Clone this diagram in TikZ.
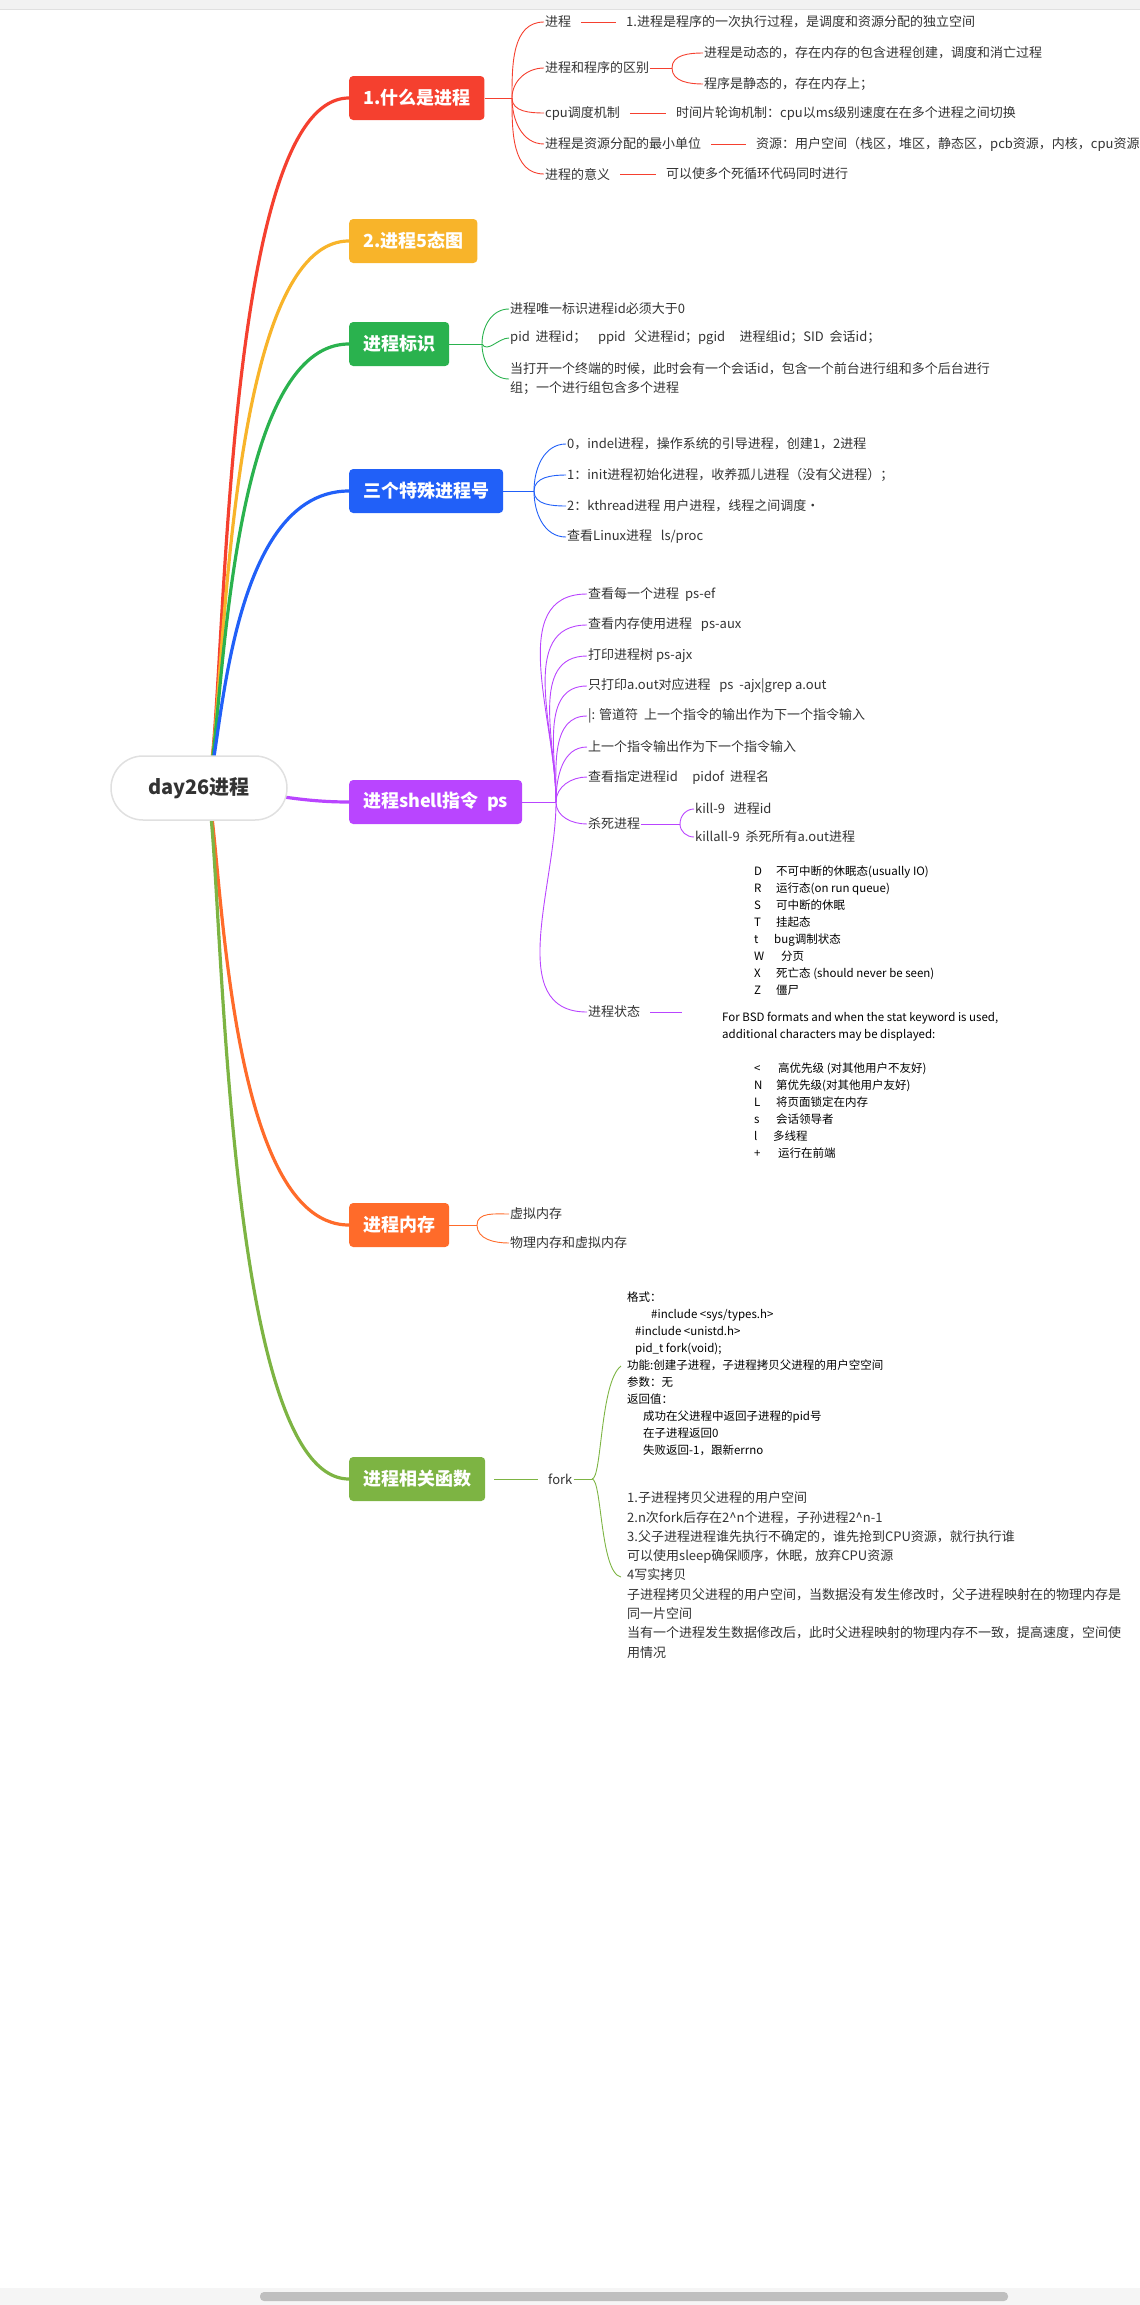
\documentclass[tikz,border=0pt]{standalone}
\usepackage{fontspec}
\setmainfont{Noto Sans CJK SC}
\begin{document}
\begin{tikzpicture}[x=1pt,y=-1pt,
  box/.style={rounded corners=4,text=white,font=\bfseries\fontsize{18}{20}\selectfont,minimum height=44,inner xsep=14,anchor=west},
  leaf/.style={anchor=west,inner sep=1,font=\fontsize{13}{19}\selectfont,text=black!80,align=left},
  blk/.style={anchor=west,inner sep=0,font=\fontsize{11.5}{17}\selectfont,text=black,align=left},
  br/.style={line width=3.2,line cap=round},
  cn/.style={line width=0.9},
  up/.style={out=90,in=180},
  dn/.style={out=-90,in=180},
  dl/.style={cn,shorten <=9,shorten >=9}]
\definecolor{cR}{HTML}{F5402F}\definecolor{cY}{HTML}{F8B42A}\definecolor{cG}{HTML}{2AB24E}
\definecolor{cB}{HTML}{2160F8}\definecolor{cP}{HTML}{B945FF}\definecolor{cO}{HTML}{FF6B2A}
\definecolor{cL}{HTML}{7DB443}
\useasboundingbox (0,0) rectangle (1140,2305);
\fill[black!5] (0,0) rectangle (1140,9);
\draw[black!12] (0,9) -- (1140,9);
\fill[black!4] (0,2288) rectangle (1140,2305);
\fill[black!25,rounded corners=4] (260,2292) rectangle (1008,2301);
% boxes
\node[box,fill=cR] (b1) at (349,98) {1.什么是进程};
\node[box,fill=cY] (b2) at (349,241) {2.进程5态图};
\node[box,fill=cG] (b3) at (349,344) {进程标识};
\node[box,fill=cB] (b4) at (349,491) {三个特殊进程号};
\node[box,fill=cP] (b5) at (349,802) {进程shell指令\ \ ps};
\node[box,fill=cO] (b6) at (349,1225) {进程内存};
\node[box,fill=cL] (b7) at (349,1479) {进程相关函数};
% root branches
\coordinate (r) at (205,788);
\draw[br,cR] (r) .. controls (228,788) and (212,98) .. (b1.west);
\draw[br,cY] (r) .. controls (226,788) and (214,241) .. (b2.west);
\draw[br,cG] (r) .. controls (224,788) and (216,344) .. (b3.west);
\draw[br,cB] (r) .. controls (222,788) and (218,491) .. (b4.west);
\draw[br,cP] (r) .. controls (260,790) and (290,802) .. (b5.west);
\draw[br,cO] (r) .. controls (222,788) and (216,1225) .. (b6.west);
\draw[br,cL] (r) .. controls (224,788) and (214,1479) .. (b7.west);
\node[draw=black!12,line width=1.5,fill=white,rounded corners=32,minimum width=176,minimum height=64,font=\bfseries\fontsize{20}{24}\selectfont,text=black!80] (root) at (199,788) {day26进程};
% branch 1
\coordinate (j1) at (512,98);
\draw[cn,cR] (b1.east) -- (j1);
\node[leaf] (a1) at (544,22) {进程};
\node[leaf] (a1d) at (625,22) {1.进程是程序的一次执行过程，是调度和资源分配的独立空间};
\node[leaf] (a2) at (544,68) {进程和程序的区别};
\node[leaf] (a2a) at (703,53) {进程是动态的，存在内存的包含进程创建，调度和消亡过程};
\node[leaf] (a2b) at (703,84) {程序是静态的，存在内存上；};
\node[leaf] (a3) at (544,113) {cpu调度机制};
\node[leaf] (a3d) at (675,113) {时间片轮询机制：cpu以ms级别速度在在多个进程之间切换};
\node[leaf] (a4) at (544,144) {进程是资源分配的最小单位};
\node[leaf] (a4d) at (755,144) {资源：用户空间（栈区，堆区，静态区，pcb资源，内核，cpu资源};
\node[leaf] (a5) at (544,174) {进程的意义};
\node[leaf] (a5d) at (665,174) {可以使多个死循环代码同时进行};
\foreach \c in {a1,a2} \draw[cn,cR] (j1) to[up] (\c.west);
\foreach \c in {a3,a4,a5} \draw[cn,cR] (j1) to[dn] (\c.west);
\foreach \a/\b in {a1/a1d,a3/a3d,a4/a4d,a5/a5d} \draw[dl,cR] (\a.east) -- (\b.west);
\coordinate (j2) at (672,68);
\draw[cn,cR] (a2.east) -- (j2);
\draw[cn,cR] (j2) to[up] (a2a.west);
\draw[cn,cR] (j2) to[dn] (a2b.west);
% branch 3
\coordinate (j3) at (482,344);
\draw[cn,cG] (b3.east) -- (j3);
\node[leaf] (c1) at (509,309) {进程唯一标识进程id必须大于0};
\node[leaf] (c2) at (509,338) {pid\ \ 进程id；\ \ \ \ ppid\ \ \ 父进程id；pgid\ \ \ \ \ 进程组id；SID\ \ 会话id；};
\node[leaf] (c3) at (509,379) {当打开一个终端的时候，此时会有一个会话id，包含一个前台进行组和多个后台进行\\组；一个进行组包含多个进程};
\draw[cn,cG] (j3) to[up] (c1.west);
\draw[cn,cG] (j3) to[out=-60,in=180] (c2.west);
\draw[cn,cG] (j3) to[dn] (c3.west);
% branch 4
\coordinate (j4) at (534,491);
\draw[cn,cB] (b4.east) -- (j4);
\node[leaf] (d1) at (566,444) {0，indel进程，操作系统的引导进程，创建1，2进程};
\node[leaf] (d2) at (566,475) {1：init进程初始化进程，收养孤儿进程（没有父进程）；};
\node[leaf] (d3) at (566,506) {2：kthread进程 用户进程，线程之间调度·};
\node[leaf] (d4) at (566,537) {查看Linux进程\ \ \ ls/proc};
\foreach \c in {d1,d2} \draw[cn,cB] (j4) to[up] (\c.west);
\foreach \c in {d3,d4} \draw[cn,cB] (j4) to[dn] (\c.west);
% branch 5
\coordinate (j5) at (556,802);
\draw[cn,cP] (b5.east) -- (j5);
\node[leaf] (e1) at (587,594) {查看每一个进程\ \ ps-ef};
\node[leaf] (e2) at (587,625) {查看内存使用进程\ \ \ ps-aux};
\node[leaf] (e3) at (587,656) {打印进程树 ps-ajx};
\node[leaf] (e4) at (587,686) {只打印a.out对应进程\ \ \ ps\ \ -ajx|grep a.out};
\node[leaf] (e5) at (587,716) {|: 管道符\ \ 上一个指令的输出作为下一个指令输入};
\node[leaf] (e6) at (587,747) {上一个指令输出作为下一个指令输入};
\node[leaf] (e7) at (587,777) {查看指定进程id\ \ \ \ \ pidof\ \ 进程名};
\node[leaf] (e8) at (587,824) {杀死进程};
\node[leaf] (e9) at (587,1012) {进程状态};
\foreach \c in {e1,e2,e3,e4,e5,e6,e7} \draw[cn,cP] (j5) to[up] (\c.west);
\foreach \c in {e8,e9} \draw[cn,cP] (j5) to[dn] (\c.west);
\coordinate (j6) at (680,824);
\draw[cn,cP] (e8.east) -- (j6);
\node[leaf] (e8a) at (694,809) {kill-9\ \ \ 进程id};
\node[leaf] (e8b) at (694,837) {killall-9\ \ 杀死所有a.out进程};
\draw[cn,cP] (j6) to[up] (e8a.west);
\draw[cn,cP] (j6) to[dn] (e8b.west);
\node[blk] (st) at (722,1012) {%
\hspace*{32pt}\makebox[22pt][l]{D}不可中断的休眠态(usually IO)\\
\hspace*{32pt}\makebox[22pt][l]{R}运行态(on run queue)\\
\hspace*{32pt}\makebox[22pt][l]{S}可中断的休眠\\
\hspace*{32pt}\makebox[22pt][l]{T}挂起态\\
\hspace*{32pt}\makebox[20pt][l]{t}bug调制状态\\
\hspace*{32pt}\makebox[27pt][l]{W}分页\\
\hspace*{32pt}\makebox[22pt][l]{X}死亡态 (should never be seen)\\
\hspace*{32pt}\makebox[22pt][l]{Z}僵尸\\[10pt]
For BSD formats and when the stat keyword is used,\\
additional characters may be displayed:\\[17pt]
\hspace*{32pt}\makebox[24pt][l]{\textless}高优先级 (对其他用户不友好)\\
\hspace*{32pt}\makebox[22pt][l]{N}第优先级(对其他用户友好)\\
\hspace*{32pt}\makebox[22pt][l]{L}将页面锁定在内存\\
\hspace*{32pt}\makebox[22pt][l]{s}会话领导者\\
\hspace*{32pt}\makebox[19pt][l]{l}多线程\\
\hspace*{32pt}\makebox[24pt][l]{+}运行在前端};
\draw[dl,cP] (e9.east) -- ([xshift=50pt]e9.east);
% branch 6
\coordinate (j7) at (477,1225);
\draw[cn,cO] (b6.east) -- (j7);
\node[leaf] (f1) at (509,1214) {虚拟内存};
\node[leaf] (f2) at (509,1243) {物理内存和虚拟内存};
\draw[cn,cO] (j7) to[up] (f1.west);
\draw[cn,cO] (j7) to[dn] (f2.west);
% branch 7
\node[leaf] (g0) at (547,1479) {fork};
\draw[dl,cL] (b7.east) -- (g0.west);
\coordinate (j8) at (592,1479);
\draw[cn,cL] (g0.east) -- (j8);
\node[blk] (g1) at (627,1374) {格式：\\
\hspace*{24pt}\#include \textless sys/types.h\textgreater\\
\hspace*{8pt}\#include \textless unistd.h\textgreater\\
\hspace*{8pt}pid\_t fork(void);\\
功能:创建子进程，子进程拷贝父进程的用户空空间\\
参数：无\\
返回值：\\
\hspace*{16pt}成功在父进程中返回子进程的pid号\\
\hspace*{16pt}在子进程返回0\\
\hspace*{16pt}失败返回-1，跟新errno};
\node[blk,font=\fontsize{13}{19.3}\selectfont,text=black!80] (g2) at (627,1575) {1.子进程拷贝父进程的用户空间\\
2.n次fork后存在2\^{}n个进程，子孙进程2\^{}n-1\\
3.父子进程进程谁先执行不确定的，谁先抢到CPU资源，就行执行谁\\
可以使用sleep确保顺序，休眠，放弃CPU资源\\
4写实拷贝\\
子进程拷贝父进程的用户空间，当数据没有发生修改时，父子进程映射在的物理内存是\\
同一片空间\\
当有一个进程发生数据修改后，此时父进程映射的物理内存不一致，提高速度，空间使\\
用情况};
\draw[cn,cL] (j8) .. controls (602,1479) and (600,1382) .. ([xshift=-6pt,yshift=8pt]g1.west);
\draw[cn,cL] (j8) .. controls (602,1479) and (600,1573) .. ([xshift=-6pt,yshift=-2pt]g2.west);
\end{tikzpicture}
\end{document}
